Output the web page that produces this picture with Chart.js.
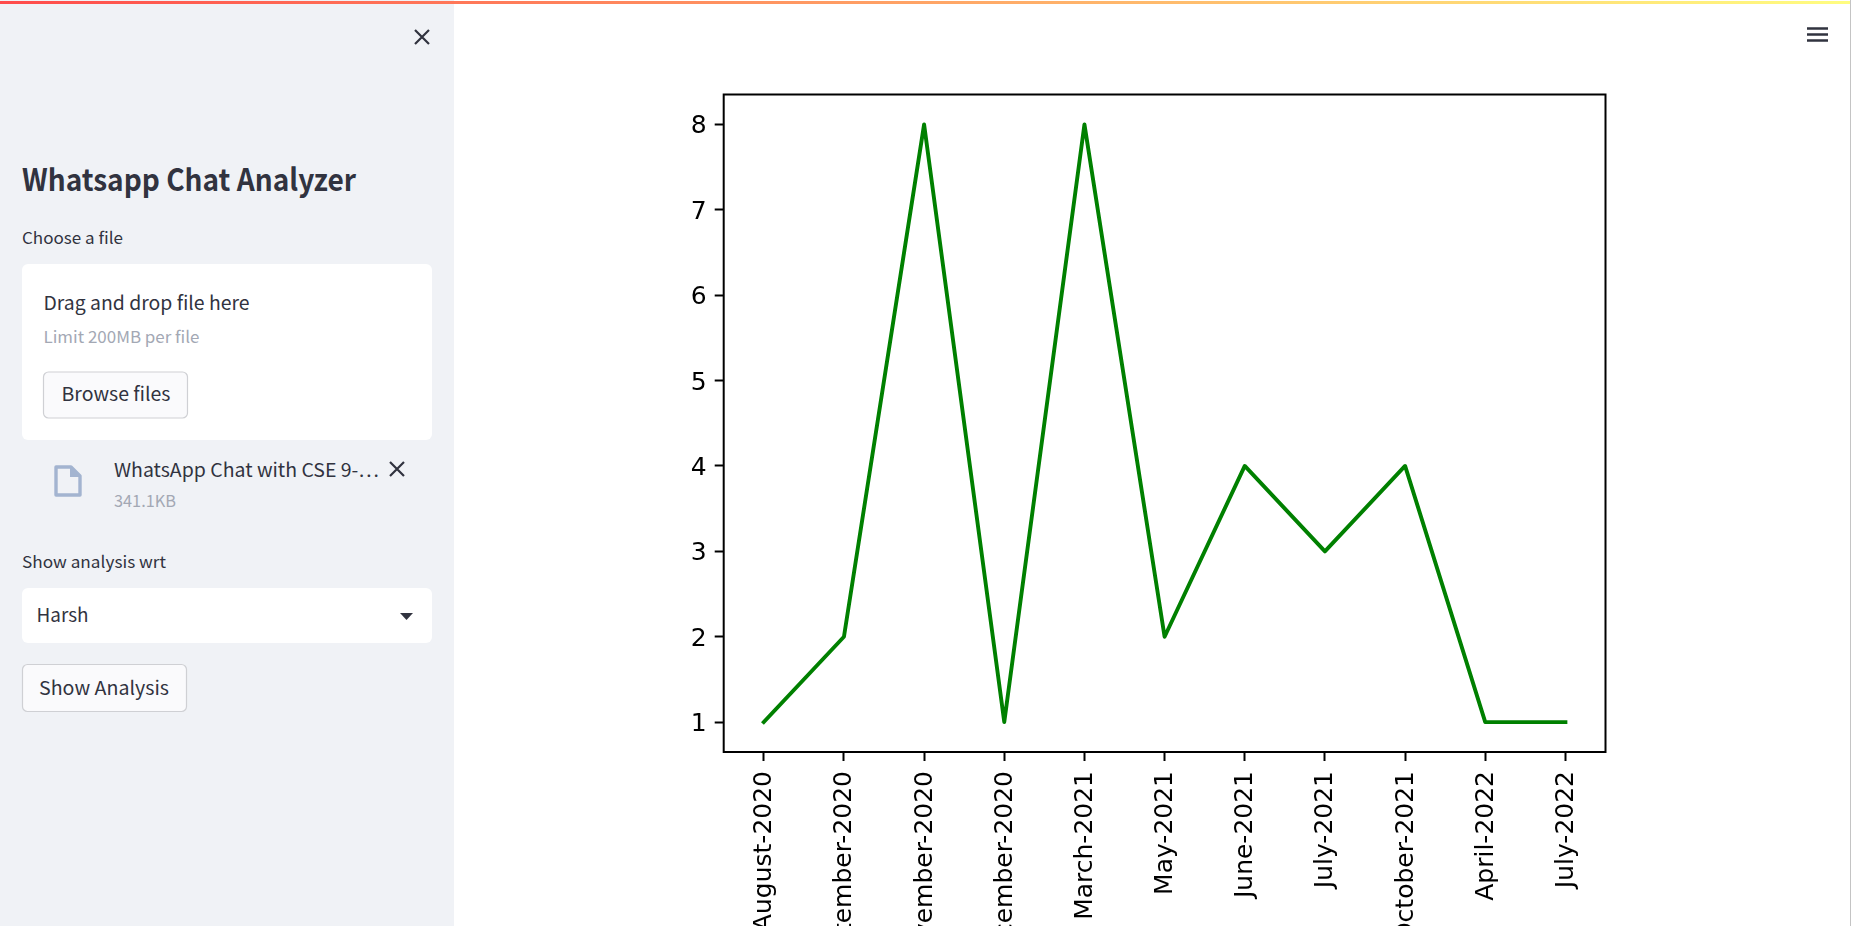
<!DOCTYPE html>
<html>
<head>
<meta charset="utf-8">
<title>Whatsapp Chat Analyzer</title>
<script src="https://cdn.jsdelivr.net/npm/chart.js@4"></script>
<style>
html,body{margin:0;padding:0;width:1851px;height:926px;overflow:hidden;background:#fff;}
#stage{position:absolute;left:0;top:0;width:1851px;height:926px;overflow:hidden;}
#ui{position:absolute;left:0;top:0;}
#chart{position:absolute;left:600px;top:60px;}
text{font-family:"Noto Sans CJK SC","Noto Sans",sans-serif;fill:#31333f;}
</style>
</head>
<body>
<div id="stage">
<svg id="ui" width="1851" height="926" viewBox="0 0 1851 926">
  <defs>
    <linearGradient id="bar" x1="0" x2="1" y1="0" y2="0">
      <stop offset="0" stop-color="#ff4b4b"/><stop offset="1" stop-color="#fffd80"/>
    </linearGradient>
  </defs>
  <rect x="0" y="0" width="454" height="926" fill="#f0f2f6"/>
  <rect x="0" y="1" width="1851" height="3" fill="url(#bar)"/>
  <rect x="1850" y="0" width="1" height="926" fill="#c4c4c4"/>

  <path d="M415 30L429 44M429 30L415 44" stroke="#31333f" stroke-width="2.2" fill="none"/>
  <text x="22" y="190.5" font-size="30.5" font-weight="700" textLength="334" lengthAdjust="spacingAndGlyphs">Whatsapp Chat Analyzer</text>
  <text x="22" y="244" font-size="16.5" textLength="101" lengthAdjust="spacingAndGlyphs">Choose a file</text>

  <rect x="22" y="264" width="410" height="176" rx="6" fill="#fff"/>
  <text x="43.5" y="310" font-size="18.9" textLength="206" lengthAdjust="spacingAndGlyphs">Drag and drop file here</text>
  <text x="43.5" y="343" font-size="16.5" textLength="156" lengthAdjust="spacingAndGlyphs" style="fill:#a3a8b4">Limit 200MB per file</text>
  <rect x="43.5" y="372" width="144" height="46" rx="5" fill="#fafafc" stroke="#cfd0d4" stroke-width="1.2"/>
  <text x="61.5" y="401" font-size="18.9" textLength="109" lengthAdjust="spacingAndGlyphs">Browse files</text>

  <path d="M56 467H71L80 476V495H56Z" fill="none" stroke="#a3b4d0" stroke-width="3.4" stroke-linejoin="round"/>
  <path d="M70 466L81 477H70Z" fill="#a3b4d0"/>
  <text x="114" y="477" font-size="18.9" textLength="265" lengthAdjust="spacingAndGlyphs">WhatsApp Chat with CSE 9-…</text>
  <path d="M390 462L404 476M404 462L390 476" stroke="#31333f" stroke-width="2.2" fill="none"/>
  <text x="114" y="507" font-size="16.5" textLength="62" lengthAdjust="spacingAndGlyphs" style="fill:#a3a8b4">341.1KB</text>

  <text x="22" y="568" font-size="16.5" textLength="144" lengthAdjust="spacingAndGlyphs">Show analysis wrt</text>
  <rect x="22" y="588" width="410" height="55" rx="6" fill="#fff"/>
  <text x="36.5" y="622" font-size="18.9" textLength="52" lengthAdjust="spacingAndGlyphs">Harsh</text>
  <path d="M400 613H413L406.5 620Z" fill="#31333f"/>

  <rect x="22.5" y="664.5" width="164" height="47" rx="5" fill="#fafafc" stroke="#cfd0d4" stroke-width="1.2"/>
  <text x="39" y="695" font-size="18.9" textLength="130" lengthAdjust="spacingAndGlyphs">Show Analysis</text>

  <path d="M1807 28.5H1828M1807 34.5H1828M1807 40.5H1828" stroke="#31333f" stroke-width="2.6" fill="none"/>
</svg>
<canvas id="chart" width="1200" height="1000"></canvas>
</div>
<script>
const categories = ["August-2020","September-2020","November-2020","December-2020","March-2021","May-2021","June-2021","July-2021","October-2021","April-2022","July-2022"];
const messageCounts = [1,2,8,1,8,2,4,3,4,1,1];
const yTickValues = [1,2,3,4,5,6,7,8];
const yMin = 0.65, yMax = 8.35;

const frame = {
  id: 'frame',
  beforeDraw(chart) {
    chart.scales.y.getLabelItems().forEach(i => { i.options.translation[1] += 2.5; });
    chart.scales.x.getLabelItems().forEach(i => { i.options.translation[0] += 1; });
  },
  afterDatasetsDraw(chart) {
    const a = chart.chartArea, c = chart.ctx;
    c.save();
    c.strokeStyle = '#000';
    c.lineWidth = 2;
    c.strokeRect(a.left, a.top, a.right - a.left, a.bottom - a.top);
    c.restore();
  }
};

const tickFont = { family: '"DejaVu Sans"', size: 25 };

new Chart(document.getElementById('chart'), {
  type: 'line',
  data: {
    labels: categories,
    datasets: [{
      data: messageCounts,
      borderColor: '#008000',
      borderWidth: 3.9,
      pointRadius: 0,
      tension: 0,
      fill: false,
      borderJoinStyle: 'round',
      borderCapStyle: 'square'
    }]
  },
  options: {
    responsive: false,
    animation: false,
    devicePixelRatio: 1,
    layout: { padding: { left: 0, top: 34.5, right: 194.5, bottom: 0 } },
    plugins: { legend: { display: false }, tooltip: { enabled: false } },
    scales: {
      x: {
        type: 'category',
        offset: true,
        afterFit(s) { s.height = 1060 - 752; },
        grid: { drawOnChartArea: false, drawTicks: true, tickLength: 9, tickWidth: 2, tickColor: '#000' },
        border: { display: false },
        ticks: { color: '#000', font: tickFont, autoSkip: false, minRotation: 90, maxRotation: 90, padding: 10 }
      },
      y: {
        type: 'linear',
        min: yMin,
        max: yMax,
        afterBuildTicks(s) { s.ticks = yTickValues.map(v => ({ value: v })); },
        afterFit(s) { s.width = 123.7; },
        grid: { drawOnChartArea: false, drawTicks: true, tickLength: 9, tickWidth: 2, tickColor: '#000' },
        border: { display: false },
        ticks: { color: '#000', font: tickFont, padding: 8 }
      }
    }
  },
  plugins: [frame]
});
</script>
</body>
</html>
